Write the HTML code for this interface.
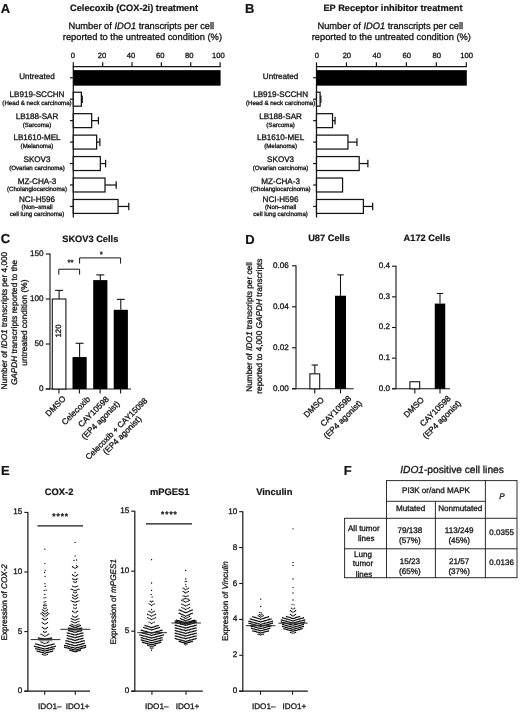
<!DOCTYPE html>
<html lang="en">
<head>
<meta charset="utf-8">
<title>IDO1 expression figure</title>
<style>
html,body{margin:0;padding:0;background:#fff;}
body{width:520px;height:712px;overflow:hidden;}
svg{display:block;text-rendering:geometricPrecision;font-family:"Liberation Sans",sans-serif;}
</style>
</head>
<body>
<svg width="520" height="712" viewBox="0 0 520 712">
<rect x="0" y="0" width="520" height="712" fill="#ffffff"/>
<text x="0.80" y="13.20" font-size="13" text-anchor="start" font-weight="bold" font-style="normal" fill="#141414" stroke="#141414" stroke-width="0.2" >A</text>
<text x="134.00" y="10.70" font-size="9.25" text-anchor="middle" font-weight="bold" font-style="normal" fill="#141414" stroke="#141414" stroke-width="0.2" >Celecoxib (COX-2i) treatment</text>
<text x="141.30" y="28.60" font-size="9.3" text-anchor="middle" font-weight="normal" font-style="normal" fill="#141414" stroke="#141414" stroke-width="0.3" >Number of <tspan font-style="italic">IDO1</tspan> transcripts per cell</text>
<text x="142.40" y="39.90" font-size="9.3" text-anchor="middle" font-weight="normal" font-style="normal" fill="#141414" stroke="#141414" stroke-width="0.3" >reported to the untreated condition (%)</text>
<line x1="72.70" y1="66.60" x2="220.70" y2="66.60" stroke="#141414" stroke-width="1.2" />
<line x1="73.30" y1="66.60" x2="73.30" y2="62.30" stroke="#141414" stroke-width="1.2" />
<text x="72.90" y="58.30" font-size="7.6" text-anchor="middle" font-weight="normal" font-style="normal" fill="#141414" stroke="#141414" stroke-width="0.3" >0</text>
<line x1="102.66" y1="66.60" x2="102.66" y2="62.30" stroke="#141414" stroke-width="1.2" />
<text x="101.98" y="58.30" font-size="7.6" text-anchor="middle" font-weight="normal" font-style="normal" fill="#141414" stroke="#141414" stroke-width="0.3" >20</text>
<line x1="132.02" y1="66.60" x2="132.02" y2="62.30" stroke="#141414" stroke-width="1.2" />
<text x="131.06" y="58.30" font-size="7.6" text-anchor="middle" font-weight="normal" font-style="normal" fill="#141414" stroke="#141414" stroke-width="0.3" >40</text>
<line x1="161.38" y1="66.60" x2="161.38" y2="62.30" stroke="#141414" stroke-width="1.2" />
<text x="160.14" y="58.30" font-size="7.6" text-anchor="middle" font-weight="normal" font-style="normal" fill="#141414" stroke="#141414" stroke-width="0.3" >60</text>
<line x1="190.74" y1="66.60" x2="190.74" y2="62.30" stroke="#141414" stroke-width="1.2" />
<text x="189.22" y="58.30" font-size="7.6" text-anchor="middle" font-weight="normal" font-style="normal" fill="#141414" stroke="#141414" stroke-width="0.3" >80</text>
<line x1="220.10" y1="66.60" x2="220.10" y2="62.30" stroke="#141414" stroke-width="1.2" />
<text x="218.30" y="58.30" font-size="7.6" text-anchor="middle" font-weight="normal" font-style="normal" fill="#141414" stroke="#141414" stroke-width="0.3" >100</text>
<line x1="73.30" y1="66.60" x2="73.30" y2="217.50" stroke="#141414" stroke-width="1.25" />
<line x1="69.90" y1="77.75" x2="73.30" y2="77.75" stroke="#141414" stroke-width="1.2" />
<rect x="73.30" y="70.15" width="147.30" height="15.50" fill="#000"/>
<text x="37.00" y="79.45" font-size="8.1" text-anchor="middle" font-weight="normal" font-style="normal" fill="#141414" stroke="#141414" stroke-width="0.3" >Untreated</text>
<line x1="69.90" y1="99.20" x2="73.30" y2="99.20" stroke="#141414" stroke-width="1.2" />
<line x1="81.37" y1="99.20" x2="82.25" y2="99.20" stroke="#141414" stroke-width="1.25" />
<line x1="82.25" y1="95.40" x2="82.25" y2="103.00" stroke="#141414" stroke-width="1.25" />
<rect x="73.30" y="92.23" width="8.07" height="13.95" fill="#fff" stroke="#141414" stroke-width="1.25"/>
<text x="37.00" y="97.30" font-size="8.1" text-anchor="middle" font-weight="normal" font-style="normal" fill="#141414" stroke="#141414" stroke-width="0.3" >LB919-SCCHN</text>
<text x="37.00" y="105.10" font-size="6.15" text-anchor="middle" font-weight="normal" font-style="normal" fill="#141414" stroke="#141414" stroke-width="0.3" >(Head &amp; neck carcinoma)</text>
<line x1="69.90" y1="120.65" x2="73.30" y2="120.65" stroke="#141414" stroke-width="1.2" />
<line x1="91.65" y1="120.65" x2="98.40" y2="120.65" stroke="#141414" stroke-width="1.25" />
<line x1="98.40" y1="116.85" x2="98.40" y2="124.45" stroke="#141414" stroke-width="1.25" />
<rect x="73.30" y="113.68" width="18.35" height="13.95" fill="#fff" stroke="#141414" stroke-width="1.25"/>
<text x="37.00" y="118.75" font-size="8.1" text-anchor="middle" font-weight="normal" font-style="normal" fill="#141414" stroke="#141414" stroke-width="0.3" >LB188-SAR</text>
<text x="37.00" y="126.55" font-size="6.15" text-anchor="middle" font-weight="normal" font-style="normal" fill="#141414" stroke="#141414" stroke-width="0.3" >(Sarcoma)</text>
<line x1="69.90" y1="142.10" x2="73.30" y2="142.10" stroke="#141414" stroke-width="1.2" />
<line x1="96.64" y1="142.10" x2="99.87" y2="142.10" stroke="#141414" stroke-width="1.25" />
<line x1="99.87" y1="138.30" x2="99.87" y2="145.90" stroke="#141414" stroke-width="1.25" />
<rect x="73.30" y="135.12" width="23.34" height="13.95" fill="#fff" stroke="#141414" stroke-width="1.25"/>
<text x="37.00" y="140.30" font-size="8.1" text-anchor="middle" font-weight="normal" font-style="normal" fill="#141414" stroke="#141414" stroke-width="0.3" >LB1610-MEL</text>
<text x="37.00" y="148.00" font-size="6.15" text-anchor="middle" font-weight="normal" font-style="normal" fill="#141414" stroke="#141414" stroke-width="0.3" >(Melanoma)</text>
<line x1="69.90" y1="163.55" x2="73.30" y2="163.55" stroke="#141414" stroke-width="1.2" />
<line x1="100.31" y1="163.55" x2="105.60" y2="163.55" stroke="#141414" stroke-width="1.25" />
<line x1="105.60" y1="159.75" x2="105.60" y2="167.35" stroke="#141414" stroke-width="1.25" />
<rect x="73.30" y="156.57" width="27.01" height="13.95" fill="#fff" stroke="#141414" stroke-width="1.25"/>
<text x="37.00" y="162.15" font-size="8.1" text-anchor="middle" font-weight="normal" font-style="normal" fill="#141414" stroke="#141414" stroke-width="0.3" >SKOV3</text>
<text x="37.00" y="169.65" font-size="6.15" text-anchor="middle" font-weight="normal" font-style="normal" fill="#141414" stroke="#141414" stroke-width="0.3" >(Ovarian carcinoma)</text>
<line x1="69.90" y1="185.00" x2="73.30" y2="185.00" stroke="#141414" stroke-width="1.2" />
<line x1="105.01" y1="185.00" x2="116.17" y2="185.00" stroke="#141414" stroke-width="1.25" />
<line x1="116.17" y1="181.20" x2="116.17" y2="188.80" stroke="#141414" stroke-width="1.25" />
<rect x="73.30" y="178.03" width="31.71" height="13.95" fill="#fff" stroke="#141414" stroke-width="1.25"/>
<text x="37.00" y="183.80" font-size="8.1" text-anchor="middle" font-weight="normal" font-style="normal" fill="#141414" stroke="#141414" stroke-width="0.3" >MZ-CHA-3</text>
<text x="37.00" y="191.10" font-size="6.15" text-anchor="middle" font-weight="normal" font-style="normal" fill="#141414" stroke="#141414" stroke-width="0.3" >(Cholangiocarcinoma)</text>
<line x1="69.90" y1="206.45" x2="73.30" y2="206.45" stroke="#141414" stroke-width="1.2" />
<line x1="118.07" y1="206.45" x2="128.79" y2="206.45" stroke="#141414" stroke-width="1.25" />
<line x1="128.79" y1="202.65" x2="128.79" y2="210.25" stroke="#141414" stroke-width="1.25" />
<rect x="73.30" y="199.47" width="44.77" height="13.95" fill="#fff" stroke="#141414" stroke-width="1.25"/>
<text x="37.00" y="201.85" font-size="8.1" text-anchor="middle" font-weight="normal" font-style="normal" fill="#141414" stroke="#141414" stroke-width="0.3" >NCI-H596</text>
<text x="37.00" y="209.45" font-size="6.15" text-anchor="middle" font-weight="normal" font-style="normal" fill="#141414" stroke="#141414" stroke-width="0.3" >(Non–small</text>
<text x="37.00" y="216.45" font-size="6.15" text-anchor="middle" font-weight="normal" font-style="normal" fill="#141414" stroke="#141414" stroke-width="0.3" >cell lung carcinoma)</text>
<text x="245.00" y="13.20" font-size="13" text-anchor="start" font-weight="bold" font-style="normal" fill="#141414" stroke="#141414" stroke-width="0.2" >B</text>
<text x="393.00" y="10.70" font-size="9.25" text-anchor="middle" font-weight="bold" font-style="normal" fill="#141414" stroke="#141414" stroke-width="0.2" >EP Receptor inhibitor treatment</text>
<text x="390.30" y="28.60" font-size="9.3" text-anchor="middle" font-weight="normal" font-style="normal" fill="#141414" stroke="#141414" stroke-width="0.3" >Number of <tspan font-style="italic">IDO1</tspan> transcripts per cell</text>
<text x="391.30" y="39.90" font-size="9.3" text-anchor="middle" font-weight="normal" font-style="normal" fill="#141414" stroke="#141414" stroke-width="0.3" >reported to the untreated condition (%)</text>
<line x1="315.90" y1="66.60" x2="466.90" y2="66.60" stroke="#141414" stroke-width="1.2" />
<line x1="316.50" y1="66.60" x2="316.50" y2="62.30" stroke="#141414" stroke-width="1.2" />
<text x="316.90" y="58.30" font-size="7.6" text-anchor="middle" font-weight="normal" font-style="normal" fill="#141414" stroke="#141414" stroke-width="0.3" >0</text>
<line x1="346.46" y1="66.60" x2="346.46" y2="62.30" stroke="#141414" stroke-width="1.2" />
<text x="346.86" y="58.30" font-size="7.6" text-anchor="middle" font-weight="normal" font-style="normal" fill="#141414" stroke="#141414" stroke-width="0.3" >20</text>
<line x1="376.42" y1="66.60" x2="376.42" y2="62.30" stroke="#141414" stroke-width="1.2" />
<text x="376.82" y="58.30" font-size="7.6" text-anchor="middle" font-weight="normal" font-style="normal" fill="#141414" stroke="#141414" stroke-width="0.3" >40</text>
<line x1="406.38" y1="66.60" x2="406.38" y2="62.30" stroke="#141414" stroke-width="1.2" />
<text x="406.78" y="58.30" font-size="7.6" text-anchor="middle" font-weight="normal" font-style="normal" fill="#141414" stroke="#141414" stroke-width="0.3" >60</text>
<line x1="436.34" y1="66.60" x2="436.34" y2="62.30" stroke="#141414" stroke-width="1.2" />
<text x="436.74" y="58.30" font-size="7.6" text-anchor="middle" font-weight="normal" font-style="normal" fill="#141414" stroke="#141414" stroke-width="0.3" >80</text>
<line x1="466.30" y1="66.60" x2="466.30" y2="62.30" stroke="#141414" stroke-width="1.2" />
<text x="466.70" y="58.30" font-size="7.6" text-anchor="middle" font-weight="normal" font-style="normal" fill="#141414" stroke="#141414" stroke-width="0.3" >100</text>
<line x1="316.50" y1="66.60" x2="316.50" y2="217.50" stroke="#141414" stroke-width="1.25" />
<line x1="313.10" y1="77.75" x2="316.50" y2="77.75" stroke="#141414" stroke-width="1.2" />
<rect x="316.50" y="70.15" width="150.30" height="15.50" fill="#000"/>
<text x="280.60" y="79.45" font-size="8.1" text-anchor="middle" font-weight="normal" font-style="normal" fill="#141414" stroke="#141414" stroke-width="0.3" >Untreated</text>
<line x1="313.10" y1="99.20" x2="316.50" y2="99.20" stroke="#141414" stroke-width="1.2" />
<line x1="320.10" y1="99.20" x2="320.84" y2="99.20" stroke="#141414" stroke-width="1.25" />
<line x1="320.84" y1="95.40" x2="320.84" y2="103.00" stroke="#141414" stroke-width="1.25" />
<rect x="316.50" y="92.23" width="3.60" height="13.95" fill="#fff" stroke="#141414" stroke-width="1.25"/>
<text x="280.60" y="97.30" font-size="8.1" text-anchor="middle" font-weight="normal" font-style="normal" fill="#141414" stroke="#141414" stroke-width="0.3" >LB919-SCCHN</text>
<text x="280.60" y="105.10" font-size="6.15" text-anchor="middle" font-weight="normal" font-style="normal" fill="#141414" stroke="#141414" stroke-width="0.3" >(Head &amp; neck carcinoma)</text>
<line x1="313.10" y1="120.65" x2="316.50" y2="120.65" stroke="#141414" stroke-width="1.2" />
<line x1="332.53" y1="120.65" x2="335.08" y2="120.65" stroke="#141414" stroke-width="1.25" />
<line x1="335.08" y1="116.85" x2="335.08" y2="124.45" stroke="#141414" stroke-width="1.25" />
<rect x="316.50" y="113.68" width="16.03" height="13.95" fill="#fff" stroke="#141414" stroke-width="1.25"/>
<text x="280.60" y="118.75" font-size="8.1" text-anchor="middle" font-weight="normal" font-style="normal" fill="#141414" stroke="#141414" stroke-width="0.3" >LB188-SAR</text>
<text x="280.60" y="126.55" font-size="6.15" text-anchor="middle" font-weight="normal" font-style="normal" fill="#141414" stroke="#141414" stroke-width="0.3" >(Sarcoma)</text>
<line x1="313.10" y1="142.10" x2="316.50" y2="142.10" stroke="#141414" stroke-width="1.2" />
<line x1="347.96" y1="142.10" x2="356.95" y2="142.10" stroke="#141414" stroke-width="1.25" />
<line x1="356.95" y1="138.30" x2="356.95" y2="145.90" stroke="#141414" stroke-width="1.25" />
<rect x="316.50" y="135.12" width="31.46" height="13.95" fill="#fff" stroke="#141414" stroke-width="1.25"/>
<text x="280.60" y="140.30" font-size="8.1" text-anchor="middle" font-weight="normal" font-style="normal" fill="#141414" stroke="#141414" stroke-width="0.3" >LB1610-MEL</text>
<text x="280.60" y="148.00" font-size="6.15" text-anchor="middle" font-weight="normal" font-style="normal" fill="#141414" stroke="#141414" stroke-width="0.3" >(Melanoma)</text>
<line x1="313.10" y1="163.55" x2="316.50" y2="163.55" stroke="#141414" stroke-width="1.2" />
<line x1="359.19" y1="163.55" x2="367.88" y2="163.55" stroke="#141414" stroke-width="1.25" />
<line x1="367.88" y1="159.75" x2="367.88" y2="167.35" stroke="#141414" stroke-width="1.25" />
<rect x="316.50" y="156.57" width="42.69" height="13.95" fill="#fff" stroke="#141414" stroke-width="1.25"/>
<text x="280.60" y="162.15" font-size="8.1" text-anchor="middle" font-weight="normal" font-style="normal" fill="#141414" stroke="#141414" stroke-width="0.3" >SKOV3</text>
<text x="280.60" y="169.65" font-size="6.15" text-anchor="middle" font-weight="normal" font-style="normal" fill="#141414" stroke="#141414" stroke-width="0.3" >(Ovarian carcinoma)</text>
<line x1="313.10" y1="185.00" x2="316.50" y2="185.00" stroke="#141414" stroke-width="1.2" />
<rect x="316.50" y="178.03" width="26.07" height="13.95" fill="#fff" stroke="#141414" stroke-width="1.25"/>
<text x="280.60" y="183.80" font-size="8.1" text-anchor="middle" font-weight="normal" font-style="normal" fill="#141414" stroke="#141414" stroke-width="0.3" >MZ-CHA-3</text>
<text x="280.60" y="191.10" font-size="6.15" text-anchor="middle" font-weight="normal" font-style="normal" fill="#141414" stroke="#141414" stroke-width="0.3" >(Cholangiocarcinoma)</text>
<line x1="313.10" y1="206.45" x2="316.50" y2="206.45" stroke="#141414" stroke-width="1.2" />
<line x1="363.39" y1="206.45" x2="372.68" y2="206.45" stroke="#141414" stroke-width="1.25" />
<line x1="372.68" y1="202.65" x2="372.68" y2="210.25" stroke="#141414" stroke-width="1.25" />
<rect x="316.50" y="199.47" width="46.89" height="13.95" fill="#fff" stroke="#141414" stroke-width="1.25"/>
<text x="280.60" y="201.85" font-size="8.1" text-anchor="middle" font-weight="normal" font-style="normal" fill="#141414" stroke="#141414" stroke-width="0.3" >NCI-H596</text>
<text x="280.60" y="209.45" font-size="6.15" text-anchor="middle" font-weight="normal" font-style="normal" fill="#141414" stroke="#141414" stroke-width="0.3" >(Non–small</text>
<text x="280.60" y="216.45" font-size="6.15" text-anchor="middle" font-weight="normal" font-style="normal" fill="#141414" stroke="#141414" stroke-width="0.3" >cell lung carcinoma)</text>
<text x="0.80" y="243.20" font-size="13" text-anchor="start" font-weight="bold" font-style="normal" fill="#141414" stroke="#141414" stroke-width="0.2" >C</text>
<text x="90.30" y="241.70" font-size="9.25" text-anchor="middle" font-weight="bold" font-style="normal" fill="#141414" stroke="#141414" stroke-width="0.2" >SKOV3 Cells</text>
<line x1="50.00" y1="253.50" x2="50.00" y2="389.00" stroke="#141414" stroke-width="1.1" />
<line x1="45.80" y1="389.00" x2="131.00" y2="389.00" stroke="#141414" stroke-width="1.1" />
<line x1="45.80" y1="389.00" x2="50.00" y2="389.00" stroke="#141414" stroke-width="1.1" />
<text x="43.40" y="391.30" font-size="8.1" text-anchor="end" font-weight="normal" font-style="normal" fill="#141414" stroke="#141414" stroke-width="0.3" >0</text>
<line x1="45.80" y1="344.00" x2="50.00" y2="344.00" stroke="#141414" stroke-width="1.1" />
<text x="43.40" y="346.30" font-size="8.1" text-anchor="end" font-weight="normal" font-style="normal" fill="#141414" stroke="#141414" stroke-width="0.3" >50</text>
<line x1="45.80" y1="299.00" x2="50.00" y2="299.00" stroke="#141414" stroke-width="1.1" />
<text x="43.40" y="301.30" font-size="8.1" text-anchor="end" font-weight="normal" font-style="normal" fill="#141414" stroke="#141414" stroke-width="0.3" >100</text>
<line x1="45.80" y1="254.00" x2="50.00" y2="254.00" stroke="#141414" stroke-width="1.1" />
<text x="43.40" y="256.30" font-size="8.1" text-anchor="end" font-weight="normal" font-style="normal" fill="#141414" stroke="#141414" stroke-width="0.3" >150</text>
<line x1="59.10" y1="299.00" x2="59.10" y2="290.36" stroke="#141414" stroke-width="1.1" />
<line x1="55.10" y1="290.36" x2="63.10" y2="290.36" stroke="#141414" stroke-width="1.1" />
<rect x="52.30" y="299.00" width="13.60" height="90.00" fill="#fff" stroke="#141414" stroke-width="1.1"/>
<line x1="58.90" y1="389.00" x2="58.90" y2="393.50" stroke="#141414" stroke-width="1.1" />
<line x1="79.60" y1="357.05" x2="79.60" y2="343.28" stroke="#141414" stroke-width="1.1" />
<line x1="75.60" y1="343.28" x2="83.60" y2="343.28" stroke="#141414" stroke-width="1.1" />
<rect x="72.50" y="357.05" width="14.2" height="31.95" fill="#000"/>
<line x1="79.40" y1="389.00" x2="79.40" y2="393.50" stroke="#141414" stroke-width="1.1" />
<line x1="100.30" y1="280.10" x2="100.30" y2="274.88" stroke="#141414" stroke-width="1.1" />
<line x1="96.30" y1="274.88" x2="104.30" y2="274.88" stroke="#141414" stroke-width="1.1" />
<rect x="93.20" y="280.10" width="14.2" height="108.90" fill="#000"/>
<line x1="100.10" y1="389.00" x2="100.10" y2="393.50" stroke="#141414" stroke-width="1.1" />
<line x1="120.80" y1="309.80" x2="120.80" y2="299.36" stroke="#141414" stroke-width="1.1" />
<line x1="116.80" y1="299.36" x2="124.80" y2="299.36" stroke="#141414" stroke-width="1.1" />
<rect x="113.70" y="309.80" width="14.2" height="79.20" fill="#000"/>
<line x1="120.60" y1="389.00" x2="120.60" y2="393.50" stroke="#141414" stroke-width="1.1" />
<text x="61.20" y="331.00" font-size="7.8" text-anchor="middle" font-weight="normal" font-style="normal" fill="#141414" stroke="#141414" stroke-width="0.3" transform="rotate(-90 61.20 331.00)" >120</text>
<polyline points="58.8,274.6 58.8,269.2 79.6,269.2 79.6,274.6" fill="none" stroke="#141414" stroke-width="1"/>
<polyline points="79.6,263.6 79.6,257.9 120.6,257.9 120.6,263.6" fill="none" stroke="#141414" stroke-width="1"/>
<text x="70.60" y="265.40" font-size="7.8" text-anchor="middle" font-weight="bold" font-style="normal" fill="#141414" stroke="#141414" stroke-width="0.2" >**</text>
<text x="101.30" y="256.60" font-size="7.8" text-anchor="middle" font-weight="bold" font-style="normal" fill="#141414" stroke="#141414" stroke-width="0.2" >*</text>
<text x="7.40" y="320.60" font-size="8.25" text-anchor="middle" font-weight="normal" font-style="normal" fill="#141414" stroke="#141414" stroke-width="0.3" transform="rotate(-90 7.40 320.60)" >Number of <tspan font-style="italic">IDO1</tspan> transcripts per 4,000</text>
<text x="17.40" y="322.50" font-size="8.23" text-anchor="middle" font-weight="normal" font-style="normal" fill="#141414" stroke="#141414" stroke-width="0.3" transform="rotate(-90 17.40 322.50)" ><tspan font-style="italic">GAPDH</tspan> transcripts reported to the</text>
<text x="27.20" y="322.60" font-size="8.33" text-anchor="middle" font-weight="normal" font-style="normal" fill="#141414" stroke="#141414" stroke-width="0.3" transform="rotate(-90 27.20 322.60)" >untreated condition (%)</text>
<text x="66.30" y="399.30" font-size="8.3" text-anchor="end" font-weight="normal" font-style="normal" fill="#141414" stroke="#141414" stroke-width="0.3" transform="rotate(-45 66.30 399.30)" >DMSO</text>
<text x="90.70" y="399.70" font-size="8.3" text-anchor="end" font-weight="normal" font-style="normal" fill="#141414" stroke="#141414" stroke-width="0.3" transform="rotate(-45 90.70 399.70)" >Celecoxib</text>
<text x="109.50" y="399.70" font-size="8.3" text-anchor="end" font-weight="normal" font-style="normal" fill="#141414" stroke="#141414" stroke-width="0.3" transform="rotate(-45 109.50 399.70)" >CAY10598</text>
<text x="120.30" y="404.40" font-size="8.3" text-anchor="end" font-weight="normal" font-style="normal" fill="#141414" stroke="#141414" stroke-width="0.3" transform="rotate(-45 120.30 404.40)" >(EP4 agonist)</text>
<text x="148.00" y="401.20" font-size="8.15" text-anchor="end" font-weight="normal" font-style="normal" fill="#141414" stroke="#141414" stroke-width="0.3" transform="rotate(-45 148.00 401.20)" >Celecoxib + CAY15098</text>
<text x="141.90" y="419.40" font-size="8.3" text-anchor="end" font-weight="normal" font-style="normal" fill="#141414" stroke="#141414" stroke-width="0.3" transform="rotate(-45 141.90 419.40)" >(EP4 agonist)</text>
<text x="245.30" y="244.00" font-size="13" text-anchor="start" font-weight="bold" font-style="normal" fill="#141414" stroke="#141414" stroke-width="0.2" >D</text>
<text x="329.00" y="241.30" font-size="9.25" text-anchor="middle" font-weight="bold" font-style="normal" fill="#141414" stroke="#141414" stroke-width="0.2" >U87 Cells</text>
<line x1="296.00" y1="265.30" x2="296.00" y2="388.80" stroke="#141414" stroke-width="1.1" />
<line x1="292.00" y1="388.80" x2="353.70" y2="388.80" stroke="#141414" stroke-width="1.1" />
<line x1="292.00" y1="388.80" x2="296.00" y2="388.80" stroke="#141414" stroke-width="1.1" />
<text x="288.80" y="390.50" font-size="8.1" text-anchor="end" font-weight="normal" font-style="normal" fill="#141414" stroke="#141414" stroke-width="0.3" >0.00</text>
<line x1="292.00" y1="347.80" x2="296.00" y2="347.80" stroke="#141414" stroke-width="1.1" />
<text x="288.80" y="349.50" font-size="8.1" text-anchor="end" font-weight="normal" font-style="normal" fill="#141414" stroke="#141414" stroke-width="0.3" >0.02</text>
<line x1="292.00" y1="306.80" x2="296.00" y2="306.80" stroke="#141414" stroke-width="1.1" />
<text x="288.80" y="308.50" font-size="8.1" text-anchor="end" font-weight="normal" font-style="normal" fill="#141414" stroke="#141414" stroke-width="0.3" >0.04</text>
<line x1="292.00" y1="265.80" x2="296.00" y2="265.80" stroke="#141414" stroke-width="1.1" />
<text x="288.80" y="267.50" font-size="8.1" text-anchor="end" font-weight="normal" font-style="normal" fill="#141414" stroke="#141414" stroke-width="0.3" >0.06</text>
<line x1="314.80" y1="373.84" x2="314.80" y2="365.02" stroke="#141414" stroke-width="1.1" />
<line x1="311.60" y1="365.02" x2="318.00" y2="365.02" stroke="#141414" stroke-width="1.1" />
<rect x="309.90" y="373.84" width="9.80" height="14.96" fill="#fff" stroke="#141414" stroke-width="1.1"/>
<line x1="314.80" y1="388.80" x2="314.80" y2="393.40" stroke="#141414" stroke-width="1.1" />
<line x1="340.50" y1="295.73" x2="340.50" y2="274.82" stroke="#141414" stroke-width="1.1" />
<line x1="337.30" y1="274.82" x2="343.70" y2="274.82" stroke="#141414" stroke-width="1.1" />
<rect x="335.00" y="295.73" width="11" height="93.07" fill="#000"/>
<line x1="340.50" y1="388.80" x2="340.50" y2="393.40" stroke="#141414" stroke-width="1.1" />
<text x="427.00" y="241.30" font-size="9.25" text-anchor="middle" font-weight="bold" font-style="normal" fill="#141414" stroke="#141414" stroke-width="0.2" >A172 Cells</text>
<line x1="396.00" y1="265.70" x2="396.00" y2="388.80" stroke="#141414" stroke-width="1.1" />
<line x1="392.00" y1="388.80" x2="450.00" y2="388.80" stroke="#141414" stroke-width="1.1" />
<line x1="392.00" y1="388.80" x2="396.00" y2="388.80" stroke="#141414" stroke-width="1.1" />
<text x="390.00" y="390.70" font-size="8.1" text-anchor="end" font-weight="normal" font-style="normal" fill="#141414" stroke="#141414" stroke-width="0.3" >0.0</text>
<line x1="392.00" y1="358.15" x2="396.00" y2="358.15" stroke="#141414" stroke-width="1.1" />
<text x="390.00" y="360.05" font-size="8.1" text-anchor="end" font-weight="normal" font-style="normal" fill="#141414" stroke="#141414" stroke-width="0.3" >0.1</text>
<line x1="392.00" y1="327.50" x2="396.00" y2="327.50" stroke="#141414" stroke-width="1.1" />
<text x="390.00" y="329.40" font-size="8.1" text-anchor="end" font-weight="normal" font-style="normal" fill="#141414" stroke="#141414" stroke-width="0.3" >0.2</text>
<line x1="392.00" y1="296.85" x2="396.00" y2="296.85" stroke="#141414" stroke-width="1.1" />
<text x="390.00" y="298.75" font-size="8.1" text-anchor="end" font-weight="normal" font-style="normal" fill="#141414" stroke="#141414" stroke-width="0.3" >0.3</text>
<line x1="392.00" y1="266.20" x2="396.00" y2="266.20" stroke="#141414" stroke-width="1.1" />
<text x="390.00" y="268.10" font-size="8.1" text-anchor="end" font-weight="normal" font-style="normal" fill="#141414" stroke="#141414" stroke-width="0.3" >0.4</text>
<rect x="409.90" y="381.75" width="9.80" height="7.05" fill="#fff" stroke="#141414" stroke-width="1.1"/>
<line x1="414.80" y1="388.80" x2="414.80" y2="393.40" stroke="#141414" stroke-width="1.1" />
<line x1="440.00" y1="303.59" x2="440.00" y2="293.48" stroke="#141414" stroke-width="1.1" />
<line x1="436.80" y1="293.48" x2="443.20" y2="293.48" stroke="#141414" stroke-width="1.1" />
<rect x="434.75" y="303.59" width="10.5" height="85.21" fill="#000"/>
<line x1="440.00" y1="388.80" x2="440.00" y2="393.40" stroke="#141414" stroke-width="1.1" />
<text x="252.20" y="326.90" font-size="8.27" text-anchor="middle" font-weight="normal" font-style="normal" fill="#141414" stroke="#141414" stroke-width="0.3" transform="rotate(-90 252.20 326.90)" >Number of <tspan font-style="italic">IDO1</tspan> transcripts per cell</text>
<text x="262.50" y="326.10" font-size="8.27" text-anchor="middle" font-weight="normal" font-style="normal" fill="#141414" stroke="#141414" stroke-width="0.3" transform="rotate(-90 262.50 326.10)" >reported to 4,000 <tspan font-style="italic">GAPDH</tspan> transcripts</text>
<text x="324.70" y="400.30" font-size="8.3" text-anchor="end" font-weight="normal" font-style="normal" fill="#141414" stroke="#141414" stroke-width="0.3" transform="rotate(-45 324.70 400.30)" >DMSO</text>
<text x="351.80" y="399.00" font-size="8.3" text-anchor="end" font-weight="normal" font-style="normal" fill="#141414" stroke="#141414" stroke-width="0.3" transform="rotate(-45 351.80 399.00)" >CAY10598</text>
<text x="362.50" y="403.70" font-size="8.3" text-anchor="end" font-weight="normal" font-style="normal" fill="#141414" stroke="#141414" stroke-width="0.3" transform="rotate(-45 362.50 403.70)" >(EP4 agonist)</text>
<text x="424.70" y="400.30" font-size="8.3" text-anchor="end" font-weight="normal" font-style="normal" fill="#141414" stroke="#141414" stroke-width="0.3" transform="rotate(-45 424.70 400.30)" >DMSO</text>
<text x="451.30" y="399.00" font-size="8.3" text-anchor="end" font-weight="normal" font-style="normal" fill="#141414" stroke="#141414" stroke-width="0.3" transform="rotate(-45 451.30 399.00)" >CAY10598</text>
<text x="461.50" y="403.70" font-size="8.3" text-anchor="end" font-weight="normal" font-style="normal" fill="#141414" stroke="#141414" stroke-width="0.3" transform="rotate(-45 461.50 403.70)" >(EP4 agonist)</text>
<text x="0.90" y="475.20" font-size="13" text-anchor="start" font-weight="bold" font-style="normal" fill="#141414" stroke="#141414" stroke-width="0.2" >E</text>
<text x="59.10" y="494.90" font-size="9.35" text-anchor="middle" font-weight="bold" font-style="normal" fill="#141414" stroke="#141414" stroke-width="0.2" >COX-2</text>
<line x1="27.90" y1="511.90" x2="27.90" y2="691.20" stroke="#141414" stroke-width="1.2" />
<line x1="24.30" y1="691.20" x2="90.00" y2="691.20" stroke="#141414" stroke-width="1.2" />
<line x1="24.30" y1="691.20" x2="27.90" y2="691.20" stroke="#141414" stroke-width="1.1" />
<text x="22.30" y="693.20" font-size="8.15" text-anchor="end" font-weight="normal" font-style="normal" fill="#141414" stroke="#141414" stroke-width="0.3" >0</text>
<line x1="24.30" y1="631.60" x2="27.90" y2="631.60" stroke="#141414" stroke-width="1.1" />
<text x="22.30" y="633.60" font-size="8.15" text-anchor="end" font-weight="normal" font-style="normal" fill="#141414" stroke="#141414" stroke-width="0.3" >5</text>
<line x1="24.30" y1="572.00" x2="27.90" y2="572.00" stroke="#141414" stroke-width="1.1" />
<text x="22.30" y="574.00" font-size="8.15" text-anchor="end" font-weight="normal" font-style="normal" fill="#141414" stroke="#141414" stroke-width="0.3" >10</text>
<line x1="24.30" y1="512.40" x2="27.90" y2="512.40" stroke="#141414" stroke-width="1.1" />
<text x="22.30" y="514.40" font-size="8.15" text-anchor="end" font-weight="normal" font-style="normal" fill="#141414" stroke="#141414" stroke-width="0.3" >15</text>
<line x1="44.70" y1="691.20" x2="44.70" y2="694.80" stroke="#141414" stroke-width="1.1" />
<line x1="75.30" y1="691.20" x2="75.30" y2="694.80" stroke="#141414" stroke-width="1.1" />
<text x="49.80" y="709.40" font-size="8.15" text-anchor="middle" font-weight="normal" font-style="normal" fill="#141414" stroke="#141414" stroke-width="0.3" >IDO1–</text>
<text x="77.60" y="709.40" font-size="8.15" text-anchor="middle" font-weight="normal" font-style="normal" fill="#141414" stroke="#141414" stroke-width="0.3" >IDO1+</text>
<text x="6.70" y="602.30" font-size="8.15" text-anchor="middle" font-weight="normal" font-style="normal" fill="#141414" stroke="#141414" stroke-width="0.3" transform="rotate(-90 6.70 602.30)" >Expression of <tspan font-style="italic">COX-2</tspan></text>
<line x1="37.50" y1="525.80" x2="83.00" y2="525.80" stroke="#141414" stroke-width="1.35" />
<text x="60.65" y="518.80" font-size="8.2" text-anchor="middle" font-weight="bold" font-style="normal" fill="#141414" stroke="#141414" stroke-width="0.2" letter-spacing="1">****</text>
<text x="169.70" y="494.90" font-size="9.35" text-anchor="middle" font-weight="bold" font-style="normal" fill="#141414" stroke="#141414" stroke-width="0.2" >mPGES1</text>
<line x1="134.80" y1="510.70" x2="134.80" y2="691.20" stroke="#141414" stroke-width="1.2" />
<line x1="131.20" y1="691.20" x2="202.80" y2="691.20" stroke="#141414" stroke-width="1.2" />
<line x1="131.20" y1="691.20" x2="134.80" y2="691.20" stroke="#141414" stroke-width="1.1" />
<text x="129.20" y="693.20" font-size="8.15" text-anchor="end" font-weight="normal" font-style="normal" fill="#141414" stroke="#141414" stroke-width="0.3" >0</text>
<line x1="131.20" y1="631.20" x2="134.80" y2="631.20" stroke="#141414" stroke-width="1.1" />
<text x="129.20" y="633.20" font-size="8.15" text-anchor="end" font-weight="normal" font-style="normal" fill="#141414" stroke="#141414" stroke-width="0.3" >5</text>
<line x1="131.20" y1="571.20" x2="134.80" y2="571.20" stroke="#141414" stroke-width="1.1" />
<text x="129.20" y="573.20" font-size="8.15" text-anchor="end" font-weight="normal" font-style="normal" fill="#141414" stroke="#141414" stroke-width="0.3" >10</text>
<line x1="131.20" y1="511.20" x2="134.80" y2="511.20" stroke="#141414" stroke-width="1.1" />
<text x="129.20" y="513.20" font-size="8.15" text-anchor="end" font-weight="normal" font-style="normal" fill="#141414" stroke="#141414" stroke-width="0.3" >15</text>
<line x1="151.90" y1="691.20" x2="151.90" y2="694.80" stroke="#141414" stroke-width="1.1" />
<line x1="186.00" y1="691.20" x2="186.00" y2="694.80" stroke="#141414" stroke-width="1.1" />
<text x="156.70" y="709.40" font-size="8.15" text-anchor="middle" font-weight="normal" font-style="normal" fill="#141414" stroke="#141414" stroke-width="0.3" >IDO1–</text>
<text x="187.50" y="709.40" font-size="8.15" text-anchor="middle" font-weight="normal" font-style="normal" fill="#141414" stroke="#141414" stroke-width="0.3" >IDO1+</text>
<text x="116.50" y="601.70" font-size="8.15" text-anchor="middle" font-weight="normal" font-style="normal" fill="#141414" stroke="#141414" stroke-width="0.3" transform="rotate(-90 116.50 601.70)" >Expression of <tspan font-style="italic">mPGES1</tspan></text>
<line x1="146.00" y1="523.80" x2="192.00" y2="523.80" stroke="#141414" stroke-width="1.35" />
<text x="169.40" y="516.80" font-size="8.2" text-anchor="middle" font-weight="bold" font-style="normal" fill="#141414" stroke="#141414" stroke-width="0.2" letter-spacing="1">****</text>
<text x="274.30" y="494.90" font-size="9.35" text-anchor="middle" font-weight="bold" font-style="normal" fill="#141414" stroke="#141414" stroke-width="0.2" >Vinculin</text>
<line x1="242.80" y1="511.20" x2="242.80" y2="691.20" stroke="#141414" stroke-width="1.2" />
<line x1="239.20" y1="691.20" x2="307.80" y2="691.20" stroke="#141414" stroke-width="1.2" />
<line x1="239.20" y1="691.20" x2="242.80" y2="691.20" stroke="#141414" stroke-width="1.1" />
<text x="237.20" y="693.20" font-size="8.15" text-anchor="end" font-weight="normal" font-style="normal" fill="#141414" stroke="#141414" stroke-width="0.3" >0</text>
<line x1="239.20" y1="655.30" x2="242.80" y2="655.30" stroke="#141414" stroke-width="1.1" />
<text x="237.20" y="657.30" font-size="8.15" text-anchor="end" font-weight="normal" font-style="normal" fill="#141414" stroke="#141414" stroke-width="0.3" >2</text>
<line x1="239.20" y1="619.40" x2="242.80" y2="619.40" stroke="#141414" stroke-width="1.1" />
<text x="237.20" y="621.40" font-size="8.15" text-anchor="end" font-weight="normal" font-style="normal" fill="#141414" stroke="#141414" stroke-width="0.3" >4</text>
<line x1="239.20" y1="583.50" x2="242.80" y2="583.50" stroke="#141414" stroke-width="1.1" />
<text x="237.20" y="585.50" font-size="8.15" text-anchor="end" font-weight="normal" font-style="normal" fill="#141414" stroke="#141414" stroke-width="0.3" >6</text>
<line x1="239.20" y1="547.60" x2="242.80" y2="547.60" stroke="#141414" stroke-width="1.1" />
<text x="237.20" y="549.60" font-size="8.15" text-anchor="end" font-weight="normal" font-style="normal" fill="#141414" stroke="#141414" stroke-width="0.3" >8</text>
<line x1="239.20" y1="511.70" x2="242.80" y2="511.70" stroke="#141414" stroke-width="1.1" />
<text x="237.20" y="513.70" font-size="8.15" text-anchor="end" font-weight="normal" font-style="normal" fill="#141414" stroke="#141414" stroke-width="0.3" >10</text>
<line x1="260.50" y1="691.20" x2="260.50" y2="694.80" stroke="#141414" stroke-width="1.1" />
<line x1="292.60" y1="691.20" x2="292.60" y2="694.80" stroke="#141414" stroke-width="1.1" />
<text x="263.70" y="709.40" font-size="8.15" text-anchor="middle" font-weight="normal" font-style="normal" fill="#141414" stroke="#141414" stroke-width="0.3" >IDO1–</text>
<text x="294.40" y="709.40" font-size="8.15" text-anchor="middle" font-weight="normal" font-style="normal" fill="#141414" stroke="#141414" stroke-width="0.3" >IDO1+</text>
<text x="227.50" y="601.00" font-size="8.15" text-anchor="middle" font-weight="normal" font-style="normal" fill="#141414" stroke="#141414" stroke-width="0.3" transform="rotate(-90 227.50 601.00)" >Expression of <tspan font-style="italic">Vinculin</tspan></text>
<path d="M44.90 549.20h0M44.90 563.60h0M45.20 570.30h0M44.60 572.50h0M45.10 576.30h0M44.90 583.70h0M45.20 586.40h0M44.20 590.50h0M46.20 590.20h0M44.90 594.50h0M44.10 597.90h0M45.90 597.60h0M44.10 602.00h0M45.80 601.60h0M44.90 604.00h0M43.60 605.22h0M44.90 606.00h0M46.20 605.22h0M43.60 607.92h0M44.90 608.70h0M46.20 607.92h0M42.30 609.84h0M43.60 610.62h0M44.90 611.40h0M46.20 610.62h0M47.50 609.84h0M42.30 612.44h0M43.60 613.22h0M44.90 614.00h0M46.20 613.22h0M47.50 612.44h0M41.00 613.68h0M42.30 614.72h0M43.60 615.76h0M44.90 616.80h0M46.20 615.76h0M47.50 614.72h0M48.80 613.68h0M42.30 618.44h0M43.60 619.22h0M44.90 620.00h0M46.20 619.22h0M47.50 618.44h0M42.30 622.64h0M43.60 623.42h0M44.90 624.20h0M46.20 623.42h0M47.50 622.64h0M42.30 627.44h0M43.60 628.22h0M44.90 629.00h0M46.20 628.22h0M47.50 627.44h0M43.60 631.72h0M44.90 632.50h0M46.20 631.72h0M41.00 634.15h0M42.30 634.87h0M43.60 635.58h0M44.90 636.30h0M46.20 635.58h0M47.50 634.87h0M48.80 634.15h0M41.00 641.95h0M42.30 642.53h0M43.60 643.12h0M44.90 643.70h0M46.20 643.12h0M47.50 642.53h0M48.80 641.95h0M42.30 654.42h0M43.60 654.81h0M44.90 655.20h0M46.20 654.81h0M47.50 654.42h0" stroke="#000" stroke-width="1.32" stroke-linecap="round" fill="none"/>
<path d="M38.40 638.00h0M39.70 638.26h0M41.00 638.52h0M42.30 638.78h0M43.60 639.04h0M44.90 639.30h0M46.20 639.04h0M47.50 638.78h0M48.80 638.52h0M50.10 638.26h0M51.40 638.00h0M35.80 643.94h0M37.10 644.29h0M38.40 644.64h0M39.70 645.00h0M41.00 645.35h0M42.30 645.70h0M43.60 646.05h0M44.90 646.40h0M46.20 646.05h0M47.50 645.70h0M48.80 645.35h0M50.10 645.00h0M51.40 644.64h0M52.70 644.29h0M54.00 643.94h0M34.50 646.29h0M35.80 646.64h0M37.10 646.99h0M38.40 647.35h0M39.70 647.70h0M41.00 648.05h0M42.30 648.40h0M43.60 648.75h0M44.90 649.10h0M46.20 648.75h0M47.50 648.40h0M48.80 648.05h0M50.10 647.70h0M51.40 647.35h0M52.70 646.99h0M54.00 646.64h0M55.30 646.29h0M35.80 648.64h0M37.10 648.99h0M38.40 649.35h0M39.70 649.70h0M41.00 650.05h0M42.30 650.40h0M43.60 650.75h0M44.90 651.10h0M46.20 650.75h0M47.50 650.40h0M48.80 650.05h0M50.10 649.70h0M51.40 649.35h0M52.70 648.99h0M54.00 648.64h0M37.10 651.09h0M38.40 651.45h0M39.70 651.80h0M41.00 652.15h0M42.30 652.50h0M43.60 652.85h0M44.90 653.20h0M46.20 652.85h0M47.50 652.50h0M48.80 652.15h0M50.10 651.80h0M51.40 651.45h0M52.70 651.09h0" stroke="#000" stroke-width="1.48" stroke-linecap="round" fill="none"/>
<line x1="30.70" y1="639.60" x2="60.30" y2="639.60" stroke="#2a2a2a" stroke-width="1.0" />
<line x1="38.70" y1="638.50" x2="52.30" y2="638.50" stroke="#2a2a2a" stroke-width="0.6" />
<line x1="38.70" y1="640.70" x2="52.30" y2="640.70" stroke="#2a2a2a" stroke-width="0.6" />
<path d="M75.10 542.40h0M75.10 555.90h0M73.90 560.40h0M76.50 560.00h0M76.50 565.60h0M72.50 566.74h0M73.80 567.52h0M75.10 568.30h0M76.40 567.52h0M77.70 566.74h0M75.10 572.50h0M72.50 574.74h0M73.80 575.52h0M75.10 576.30h0M76.40 575.52h0M77.70 574.74h0M72.50 578.79h0M73.80 579.25h0M75.10 579.70h0M76.40 579.25h0M77.70 578.79h0M73.80 581.72h0M75.10 582.50h0M76.40 581.72h0M72.50 586.09h0M73.80 586.54h0M75.10 587.00h0M76.40 586.54h0M77.70 586.09h0M71.20 589.13h0M72.50 589.59h0M73.80 590.04h0M75.10 590.50h0M76.40 590.04h0M77.70 589.59h0M79.00 589.13h0M73.80 592.22h0M75.10 593.00h0M76.40 592.22h0M72.50 594.94h0M73.80 595.72h0M75.10 596.50h0M76.40 595.72h0M77.70 594.94h0M72.50 597.64h0M73.80 598.42h0M75.10 599.20h0M76.40 598.42h0M77.70 597.64h0M71.20 600.84h0M72.50 601.29h0M73.80 601.75h0M75.10 602.20h0M76.40 601.75h0M77.70 601.29h0M79.00 600.84h0M73.80 604.72h0M75.10 605.50h0M76.40 604.72h0M73.80 607.92h0M75.10 608.70h0M76.40 607.92h0M72.50 611.24h0M73.80 612.02h0M75.10 612.80h0M76.40 612.02h0M77.70 611.24h0M72.50 615.94h0M73.80 616.72h0M75.10 617.50h0M76.40 616.72h0M77.70 615.94h0M71.20 618.64h0M72.50 619.16h0M73.80 619.68h0M75.10 620.20h0M76.40 619.68h0M77.70 619.16h0M79.00 618.64h0M71.20 621.34h0M72.50 621.86h0M73.80 622.38h0M75.10 622.90h0M76.40 622.38h0M77.70 621.86h0M79.00 621.34h0M71.20 624.04h0M72.50 624.56h0M73.80 625.08h0M75.10 625.60h0M76.40 625.08h0M77.70 624.56h0M79.00 624.04h0" stroke="#000" stroke-width="1.32" stroke-linecap="round" fill="none"/>
<path d="M69.90 625.52h0M71.20 626.04h0M72.50 626.56h0M73.80 627.08h0M75.10 627.60h0M76.40 627.08h0M77.70 626.56h0M79.00 626.04h0M80.30 625.52h0M68.60 628.30h0M69.90 628.56h0M71.20 628.82h0M72.50 629.08h0M73.80 629.34h0M75.10 629.60h0M76.40 629.34h0M77.70 629.08h0M79.00 628.82h0M80.30 628.56h0M81.60 628.30h0M68.60 630.54h0M69.90 630.90h0M71.20 631.25h0M72.50 631.60h0M73.80 631.95h0M75.10 632.30h0M76.40 631.95h0M77.70 631.60h0M79.00 631.25h0M80.30 630.90h0M81.60 630.54h0M67.30 632.89h0M68.60 633.25h0M69.90 633.60h0M71.20 633.95h0M72.50 634.30h0M73.80 634.65h0M75.10 635.00h0M76.40 634.65h0M77.70 634.30h0M79.00 633.95h0M80.30 633.60h0M81.60 633.25h0M82.90 632.89h0M67.30 635.59h0M68.60 635.95h0M69.90 636.30h0M71.20 636.65h0M72.50 637.00h0M73.80 637.35h0M75.10 637.70h0M76.40 637.35h0M77.70 637.00h0M79.00 636.65h0M80.30 636.30h0M81.60 635.95h0M82.90 635.59h0M67.30 638.29h0M68.60 638.64h0M69.90 639.00h0M71.20 639.35h0M72.50 639.70h0M73.80 640.05h0M75.10 640.40h0M76.40 640.05h0M77.70 639.70h0M79.00 639.35h0M80.30 639.00h0M81.60 638.64h0M82.90 638.29h0M66.00 640.64h0M67.30 640.99h0M68.60 641.35h0M69.90 641.70h0M71.20 642.05h0M72.50 642.40h0M73.80 642.75h0M75.10 643.10h0M76.40 642.75h0M77.70 642.40h0M79.00 642.05h0M80.30 641.70h0M81.60 641.35h0M82.90 640.99h0M84.20 640.64h0M66.00 643.34h0M67.30 643.69h0M68.60 644.04h0M69.90 644.40h0M71.20 644.75h0M72.50 645.10h0M73.80 645.45h0M75.10 645.80h0M76.40 645.45h0M77.70 645.10h0M79.00 644.75h0M80.30 644.40h0M81.60 644.04h0M82.90 643.69h0M84.20 643.34h0M64.70 645.39h0M66.00 645.74h0M67.30 646.09h0M68.60 646.45h0M69.90 646.80h0M71.20 647.15h0M72.50 647.50h0M73.80 647.85h0M75.10 648.20h0M76.40 647.85h0M77.70 647.50h0M79.00 647.15h0M80.30 646.80h0M81.60 646.45h0M82.90 646.09h0M84.20 645.74h0M85.50 645.39h0M64.70 647.29h0M66.00 647.64h0M67.30 647.99h0M68.60 648.35h0M69.90 648.70h0M71.20 649.05h0M72.50 649.40h0M73.80 649.75h0M75.10 650.10h0M76.40 649.75h0M77.70 649.40h0M79.00 649.05h0M80.30 648.70h0M81.60 648.35h0M82.90 647.99h0M84.20 647.64h0M85.50 647.29h0M69.90 650.24h0M71.20 650.63h0M72.50 651.02h0M73.80 651.41h0M75.10 651.80h0M76.40 651.41h0M77.70 651.02h0M79.00 650.63h0M80.30 650.24h0" stroke="#000" stroke-width="1.48" stroke-linecap="round" fill="none"/>
<line x1="60.30" y1="629.30" x2="90.20" y2="629.30" stroke="#2a2a2a" stroke-width="1.0" />
<line x1="68.45" y1="628.00" x2="82.05" y2="628.00" stroke="#2a2a2a" stroke-width="0.6" />
<line x1="68.45" y1="630.60" x2="82.05" y2="630.60" stroke="#2a2a2a" stroke-width="0.6" />
<path d="M151.60 559.70h0M151.60 583.00h0M151.60 590.40h0M151.10 594.40h0M152.10 597.00h0M150.30 601.22h0M151.60 602.00h0M152.90 601.22h0M149.00 603.84h0M150.30 604.62h0M151.60 605.40h0M152.90 604.62h0M154.20 603.84h0M151.60 609.50h0M149.00 611.24h0M150.30 612.02h0M151.60 612.80h0M152.90 612.02h0M154.20 611.24h0M147.70 614.25h0M149.00 614.90h0M150.30 615.55h0M151.60 616.20h0M152.90 615.55h0M154.20 614.90h0M155.50 614.25h0M147.70 617.65h0M149.00 618.30h0M150.30 618.95h0M151.60 619.60h0M152.90 618.95h0M154.20 618.30h0M155.50 617.65h0M149.00 622.04h0M150.30 622.82h0M151.60 623.60h0M152.90 622.82h0M154.20 622.04h0M147.70 645.24h0M149.00 645.76h0M150.30 646.28h0M151.60 646.80h0M152.90 646.28h0M154.20 645.76h0M155.50 645.24h0M150.30 648.02h0M151.60 648.80h0M152.90 648.02h0M151.60 650.30h0" stroke="#000" stroke-width="1.32" stroke-linecap="round" fill="none"/>
<path d="M145.10 625.46h0M146.40 625.88h0M147.70 626.31h0M149.00 626.74h0M150.30 627.17h0M151.60 627.60h0M152.90 627.17h0M154.20 626.74h0M155.50 626.31h0M156.80 625.88h0M158.10 625.46h0M143.80 627.56h0M145.10 627.95h0M146.40 628.34h0M147.70 628.73h0M149.00 629.12h0M150.30 629.51h0M151.60 629.90h0M152.90 629.51h0M154.20 629.12h0M155.50 628.73h0M156.80 628.34h0M158.10 627.95h0M159.40 627.56h0M141.20 630.19h0M142.50 630.54h0M143.80 630.89h0M145.10 631.25h0M146.40 631.60h0M147.70 631.95h0M149.00 632.30h0M150.30 632.65h0M151.60 633.00h0M152.90 632.65h0M154.20 632.30h0M155.50 631.95h0M156.80 631.60h0M158.10 631.25h0M159.40 630.89h0M160.70 630.54h0M162.00 630.19h0M141.20 632.59h0M142.50 632.94h0M143.80 633.29h0M145.10 633.64h0M146.40 634.00h0M147.70 634.35h0M149.00 634.70h0M150.30 635.05h0M151.60 635.40h0M152.90 635.05h0M154.20 634.70h0M155.50 634.35h0M156.80 634.00h0M158.10 633.64h0M159.40 633.29h0M160.70 632.94h0M162.00 632.59h0M139.90 634.94h0M141.20 635.29h0M142.50 635.64h0M143.80 635.99h0M145.10 636.35h0M146.40 636.70h0M147.70 637.05h0M149.00 637.40h0M150.30 637.75h0M151.60 638.10h0M152.90 637.75h0M154.20 637.40h0M155.50 637.05h0M156.80 636.70h0M158.10 636.35h0M159.40 635.99h0M160.70 635.64h0M162.00 635.29h0M163.30 634.94h0M141.20 637.69h0M142.50 638.04h0M143.80 638.39h0M145.10 638.75h0M146.40 639.10h0M147.70 639.45h0M149.00 639.80h0M150.30 640.15h0M151.60 640.50h0M152.90 640.15h0M154.20 639.80h0M155.50 639.45h0M156.80 639.10h0M158.10 638.75h0M159.40 638.39h0M160.70 638.04h0M162.00 637.69h0M141.20 639.99h0M142.50 640.34h0M143.80 640.69h0M145.10 641.04h0M146.40 641.40h0M147.70 641.75h0M149.00 642.10h0M150.30 642.45h0M151.60 642.80h0M152.90 642.45h0M154.20 642.10h0M155.50 641.75h0M156.80 641.40h0M158.10 641.04h0M159.40 640.69h0M160.70 640.34h0M162.00 639.99h0M142.50 642.34h0M143.80 642.69h0M145.10 643.04h0M146.40 643.40h0M147.70 643.75h0M149.00 644.10h0M150.30 644.45h0M151.60 644.80h0M152.90 644.45h0M154.20 644.10h0M155.50 643.75h0M156.80 643.40h0M158.10 643.04h0M159.40 642.69h0M160.70 642.34h0" stroke="#000" stroke-width="1.48" stroke-linecap="round" fill="none"/>
<line x1="137.40" y1="632.70" x2="167.00" y2="632.70" stroke="#2a2a2a" stroke-width="1.0" />
<path d="M185.70 570.50h0M185.70 579.00h0M185.10 581.60h0M186.50 581.30h0M185.70 584.30h0M186.10 586.50h0M183.10 588.14h0M184.40 588.92h0M185.70 589.70h0M187.00 588.92h0M188.30 588.14h0M183.10 591.44h0M184.40 592.22h0M185.70 593.00h0M187.00 592.22h0M188.30 591.44h0M183.10 595.82h0M184.40 596.21h0M185.70 596.60h0M187.00 596.21h0M188.30 595.82h0M183.10 599.18h0M184.40 598.79h0M185.70 598.40h0M187.00 598.79h0M188.30 599.18h0M181.80 600.25h0M183.10 600.90h0M184.40 601.55h0M185.70 602.20h0M187.00 601.55h0M188.30 600.90h0M189.60 600.25h0M181.80 604.05h0M183.10 604.70h0M184.40 605.35h0M185.70 606.00h0M187.00 605.35h0M188.30 604.70h0M189.60 604.05h0M181.80 607.55h0M183.10 608.20h0M184.40 608.85h0M185.70 609.50h0M187.00 608.85h0M188.30 608.20h0M189.60 607.55h0M181.80 616.45h0M183.10 617.10h0M184.40 617.75h0M185.70 618.40h0M187.00 617.75h0M188.30 617.10h0M189.60 616.45h0M184.40 644.02h0M185.70 644.80h0M187.00 644.02h0" stroke="#000" stroke-width="1.32" stroke-linecap="round" fill="none"/>
<path d="M179.20 609.88h0M180.50 610.46h0M181.80 611.04h0M183.10 611.63h0M184.40 612.21h0M185.70 612.80h0M187.00 612.21h0M188.30 611.63h0M189.60 611.04h0M190.90 610.46h0M192.20 609.88h0M179.20 613.28h0M180.50 613.86h0M181.80 614.45h0M183.10 615.03h0M184.40 615.62h0M185.70 616.20h0M187.00 615.62h0M188.30 615.03h0M189.60 614.45h0M190.90 613.86h0M192.20 613.28h0M180.50 618.56h0M181.80 619.14h0M183.10 619.73h0M184.40 620.31h0M185.70 620.90h0M187.00 620.31h0M188.30 619.73h0M189.60 619.14h0M190.90 618.56h0M176.60 620.14h0M177.90 620.49h0M179.20 620.85h0M180.50 621.20h0M181.80 621.55h0M183.10 621.90h0M184.40 622.25h0M185.70 622.60h0M187.00 622.25h0M188.30 621.90h0M189.60 621.55h0M190.90 621.20h0M192.20 620.85h0M193.50 620.49h0M194.80 620.14h0M175.30 620.99h0M176.60 621.34h0M177.90 621.69h0M179.20 622.04h0M180.50 622.40h0M181.80 622.75h0M183.10 623.10h0M184.40 623.45h0M185.70 623.80h0M187.00 623.45h0M188.30 623.10h0M189.60 622.75h0M190.90 622.40h0M192.20 622.04h0M193.50 621.69h0M194.80 621.34h0M196.10 620.99h0M175.30 622.49h0M176.60 622.84h0M177.90 623.19h0M179.20 623.54h0M180.50 623.90h0M181.80 624.25h0M183.10 624.60h0M184.40 624.95h0M185.70 625.30h0M187.00 624.95h0M188.30 624.60h0M189.60 624.25h0M190.90 623.90h0M192.20 623.54h0M193.50 623.19h0M194.80 622.84h0M196.10 622.49h0M175.30 625.19h0M176.60 625.54h0M177.90 625.89h0M179.20 626.25h0M180.50 626.60h0M181.80 626.95h0M183.10 627.30h0M184.40 627.65h0M185.70 628.00h0M187.00 627.65h0M188.30 627.30h0M189.60 626.95h0M190.90 626.60h0M192.20 626.25h0M193.50 625.89h0M194.80 625.54h0M196.10 625.19h0M175.30 627.89h0M176.60 628.24h0M177.90 628.59h0M179.20 628.95h0M180.50 629.30h0M181.80 629.65h0M183.10 630.00h0M184.40 630.35h0M185.70 630.70h0M187.00 630.35h0M188.30 630.00h0M189.60 629.65h0M190.90 629.30h0M192.20 628.95h0M193.50 628.59h0M194.80 628.24h0M196.10 627.89h0M175.30 630.59h0M176.60 630.94h0M177.90 631.29h0M179.20 631.64h0M180.50 632.00h0M181.80 632.35h0M183.10 632.70h0M184.40 633.05h0M185.70 633.40h0M187.00 633.05h0M188.30 632.70h0M189.60 632.35h0M190.90 632.00h0M192.20 631.64h0M193.50 631.29h0M194.80 630.94h0M196.10 630.59h0M175.30 633.19h0M176.60 633.54h0M177.90 633.89h0M179.20 634.25h0M180.50 634.60h0M181.80 634.95h0M183.10 635.30h0M184.40 635.65h0M185.70 636.00h0M187.00 635.65h0M188.30 635.30h0M189.60 634.95h0M190.90 634.60h0M192.20 634.25h0M193.50 633.89h0M194.80 633.54h0M196.10 633.19h0M175.30 635.89h0M176.60 636.24h0M177.90 636.59h0M179.20 636.95h0M180.50 637.30h0M181.80 637.65h0M183.10 638.00h0M184.40 638.35h0M185.70 638.70h0M187.00 638.35h0M188.30 638.00h0M189.60 637.65h0M190.90 637.30h0M192.20 636.95h0M193.50 636.59h0M194.80 636.24h0M196.10 635.89h0M175.30 638.59h0M176.60 638.94h0M177.90 639.29h0M179.20 639.64h0M180.50 640.00h0M181.80 640.35h0M183.10 640.70h0M184.40 641.05h0M185.70 641.40h0M187.00 641.05h0M188.30 640.70h0M189.60 640.35h0M190.90 640.00h0M192.20 639.64h0M193.50 639.29h0M194.80 638.94h0M196.10 638.59h0M179.20 641.45h0M180.50 641.80h0M181.80 642.15h0M183.10 642.50h0M184.40 642.85h0M185.70 643.20h0M187.00 642.85h0M188.30 642.50h0M189.60 642.15h0M190.90 641.80h0M192.20 641.45h0" stroke="#000" stroke-width="1.48" stroke-linecap="round" fill="none"/>
<line x1="171.40" y1="623.00" x2="200.90" y2="623.00" stroke="#2a2a2a" stroke-width="1.0" />
<path d="M260.70 599.20h0M260.70 606.50h0M259.80 612.30h0M261.30 612.90h0M259.40 614.42h0M260.70 615.20h0M262.00 614.42h0M258.10 615.64h0M259.40 616.42h0M260.70 617.20h0M262.00 616.42h0M263.30 615.64h0M258.10 634.22h0M259.40 634.61h0M260.70 635.00h0M262.00 634.61h0M263.30 634.22h0" stroke="#000" stroke-width="1.32" stroke-linecap="round" fill="none"/>
<path d="M252.90 616.73h0M254.20 617.15h0M255.50 617.58h0M256.80 618.01h0M258.10 618.44h0M259.40 618.87h0M260.70 619.30h0M262.00 618.87h0M263.30 618.44h0M264.60 618.01h0M265.90 617.58h0M267.20 617.15h0M268.50 616.73h0M250.30 618.88h0M251.60 619.27h0M252.90 619.66h0M254.20 620.05h0M255.50 620.44h0M256.80 620.83h0M258.10 621.22h0M259.40 621.61h0M260.70 622.00h0M262.00 621.61h0M263.30 621.22h0M264.60 620.83h0M265.90 620.44h0M267.20 620.05h0M268.50 619.66h0M269.80 619.27h0M271.10 618.88h0M249.00 621.24h0M250.30 621.59h0M251.60 621.94h0M252.90 622.29h0M254.20 622.64h0M255.50 623.00h0M256.80 623.35h0M258.10 623.70h0M259.40 624.05h0M260.70 624.40h0M262.00 624.05h0M263.30 623.70h0M264.60 623.35h0M265.90 623.00h0M267.20 622.64h0M268.50 622.29h0M269.80 621.94h0M271.10 621.59h0M272.40 621.24h0M249.00 623.24h0M250.30 623.59h0M251.60 623.94h0M252.90 624.29h0M254.20 624.64h0M255.50 625.00h0M256.80 625.35h0M258.10 625.70h0M259.40 626.05h0M260.70 626.40h0M262.00 626.05h0M263.30 625.70h0M264.60 625.35h0M265.90 625.00h0M267.20 624.64h0M268.50 624.29h0M269.80 623.94h0M271.10 623.59h0M272.40 623.24h0M250.30 625.79h0M251.60 626.14h0M252.90 626.49h0M254.20 626.85h0M255.50 627.20h0M256.80 627.55h0M258.10 627.90h0M259.40 628.25h0M260.70 628.60h0M262.00 628.25h0M263.30 627.90h0M264.60 627.55h0M265.90 627.20h0M267.20 626.85h0M268.50 626.49h0M269.80 626.14h0M271.10 625.79h0M251.60 628.34h0M252.90 628.69h0M254.20 629.04h0M255.50 629.40h0M256.80 629.75h0M258.10 630.10h0M259.40 630.45h0M260.70 630.80h0M262.00 630.45h0M263.30 630.10h0M264.60 629.75h0M265.90 629.40h0M267.20 629.04h0M268.50 628.69h0M269.80 628.34h0M252.90 630.89h0M254.20 631.25h0M255.50 631.60h0M256.80 631.95h0M258.10 632.30h0M259.40 632.65h0M260.70 633.00h0M262.00 632.65h0M263.30 632.30h0M264.60 631.95h0M265.90 631.60h0M267.20 631.25h0M268.50 630.89h0" stroke="#000" stroke-width="1.48" stroke-linecap="round" fill="none"/>
<line x1="245.80" y1="625.70" x2="275.30" y2="625.70" stroke="#2a2a2a" stroke-width="1.0" />
<path d="M293.00 528.80h0M293.00 562.50h0M293.00 565.50h0M293.00 579.00h0M293.00 587.40h0M293.00 593.00h0M293.00 600.00h0M292.00 604.30h0M294.00 604.80h0M291.40 608.20h0M293.00 609.00h0M294.60 608.20h0M290.40 610.74h0M291.70 611.52h0M293.00 612.30h0M294.30 611.52h0M295.60 610.74h0M290.40 614.44h0M291.70 615.22h0M293.00 616.00h0M294.30 615.22h0M295.60 614.44h0M290.40 632.42h0M291.70 632.81h0M293.00 633.20h0M294.30 632.81h0M295.60 632.42h0" stroke="#000" stroke-width="1.32" stroke-linecap="round" fill="none"/>
<path d="M286.50 616.46h0M287.80 616.88h0M289.10 617.31h0M290.40 617.74h0M291.70 618.17h0M293.00 618.60h0M294.30 618.17h0M295.60 617.74h0M296.90 617.31h0M298.20 616.88h0M299.50 616.46h0M282.60 617.78h0M283.90 618.17h0M285.20 618.56h0M286.50 618.95h0M287.80 619.34h0M289.10 619.73h0M290.40 620.12h0M291.70 620.51h0M293.00 620.90h0M294.30 620.51h0M295.60 620.12h0M296.90 619.73h0M298.20 619.34h0M299.50 618.95h0M300.80 618.56h0M302.10 618.17h0M303.40 617.78h0M281.30 619.94h0M282.60 620.29h0M283.90 620.64h0M285.20 620.99h0M286.50 621.35h0M287.80 621.70h0M289.10 622.05h0M290.40 622.40h0M291.70 622.75h0M293.00 623.10h0M294.30 622.75h0M295.60 622.40h0M296.90 622.05h0M298.20 621.70h0M299.50 621.35h0M300.80 620.99h0M302.10 620.64h0M303.40 620.29h0M304.70 619.94h0M281.30 622.04h0M282.60 622.39h0M283.90 622.74h0M285.20 623.09h0M286.50 623.45h0M287.80 623.80h0M289.10 624.15h0M290.40 624.50h0M291.70 624.85h0M293.00 625.20h0M294.30 624.85h0M295.60 624.50h0M296.90 624.15h0M298.20 623.80h0M299.50 623.45h0M300.80 623.09h0M302.10 622.74h0M303.40 622.39h0M304.70 622.04h0M282.60 624.49h0M283.90 624.84h0M285.20 625.19h0M286.50 625.54h0M287.80 625.90h0M289.10 626.25h0M290.40 626.60h0M291.70 626.95h0M293.00 627.30h0M294.30 626.95h0M295.60 626.60h0M296.90 626.25h0M298.20 625.90h0M299.50 625.54h0M300.80 625.19h0M302.10 624.84h0M303.40 624.49h0M282.60 626.49h0M283.90 626.84h0M285.20 627.19h0M286.50 627.54h0M287.80 627.90h0M289.10 628.25h0M290.40 628.60h0M291.70 628.95h0M293.00 629.30h0M294.30 628.95h0M295.60 628.60h0M296.90 628.25h0M298.20 627.90h0M299.50 627.54h0M300.80 627.19h0M302.10 626.84h0M303.40 626.49h0M283.90 628.74h0M285.20 629.09h0M286.50 629.45h0M287.80 629.80h0M289.10 630.15h0M290.40 630.50h0M291.70 630.85h0M293.00 631.20h0M294.30 630.85h0M295.60 630.50h0M296.90 630.15h0M298.20 629.80h0M299.50 629.45h0M300.80 629.09h0M302.10 628.74h0" stroke="#000" stroke-width="1.48" stroke-linecap="round" fill="none"/>
<line x1="278.40" y1="623.20" x2="307.60" y2="623.20" stroke="#2a2a2a" stroke-width="1.0" />
<text x="343.80" y="475.40" font-size="13" text-anchor="start" font-weight="bold" font-style="normal" fill="#141414" stroke="#141414" stroke-width="0.2" >F</text>
<text x="452.00" y="473.20" font-size="10.2" text-anchor="middle" font-weight="normal" font-style="normal" fill="#141414" stroke="#141414" stroke-width="0.3" ><tspan font-style="italic">IDO1</tspan>-positive cell lines</text>
<line x1="386.50" y1="480.60" x2="517.00" y2="480.60" stroke="#141414" stroke-width="0.9" />
<line x1="386.50" y1="501.30" x2="485.40" y2="501.30" stroke="#141414" stroke-width="0.9" />
<line x1="344.60" y1="518.30" x2="517.00" y2="518.30" stroke="#141414" stroke-width="0.9" />
<line x1="344.60" y1="548.80" x2="517.00" y2="548.80" stroke="#141414" stroke-width="0.9" />
<line x1="344.60" y1="577.70" x2="517.00" y2="577.70" stroke="#141414" stroke-width="0.9" />
<line x1="344.60" y1="517.85" x2="344.60" y2="578.15" stroke="#141414" stroke-width="0.9" />
<line x1="386.50" y1="480.15" x2="386.50" y2="578.15" stroke="#141414" stroke-width="0.9" />
<line x1="485.40" y1="480.15" x2="485.40" y2="578.15" stroke="#141414" stroke-width="0.9" />
<line x1="517.00" y1="480.15" x2="517.00" y2="578.15" stroke="#141414" stroke-width="0.9" />
<line x1="435.40" y1="501.30" x2="435.40" y2="577.70" stroke="#141414" stroke-width="0.9" />
<text x="436.00" y="493.30" font-size="8.1" text-anchor="middle" font-weight="normal" font-style="normal" fill="#141414" stroke="#141414" stroke-width="0.3" >PI3K or/and MAPK</text>
<text x="502.00" y="498.90" font-size="8.1" text-anchor="middle" font-weight="normal" font-style="italic" fill="#141414" stroke="#141414" stroke-width="0.3" >P</text>
<text x="410.70" y="511.40" font-size="8.1" text-anchor="middle" font-weight="normal" font-style="normal" fill="#141414" stroke="#141414" stroke-width="0.3" >Mutated</text>
<text x="460.20" y="511.40" font-size="8.1" text-anchor="middle" font-weight="normal" font-style="normal" fill="#141414" stroke="#141414" stroke-width="0.3" >Nonmutated</text>
<text x="363.80" y="531.10" font-size="8" text-anchor="middle" font-weight="normal" font-style="normal" fill="#141414" stroke="#141414" stroke-width="0.3" >All tumor</text>
<text x="366.20" y="541.10" font-size="8" text-anchor="middle" font-weight="normal" font-style="normal" fill="#141414" stroke="#141414" stroke-width="0.3" >lines</text>
<text x="409.90" y="533.20" font-size="8.1" text-anchor="middle" font-weight="normal" font-style="normal" fill="#141414" stroke="#141414" stroke-width="0.3" >79/138</text>
<text x="409.90" y="542.80" font-size="8.1" text-anchor="middle" font-weight="normal" font-style="normal" fill="#141414" stroke="#141414" stroke-width="0.3" >(57%)</text>
<text x="459.20" y="533.20" font-size="8.1" text-anchor="middle" font-weight="normal" font-style="normal" fill="#141414" stroke="#141414" stroke-width="0.3" >113/249</text>
<text x="459.20" y="542.80" font-size="8.1" text-anchor="middle" font-weight="normal" font-style="normal" fill="#141414" stroke="#141414" stroke-width="0.3" >(45%)</text>
<text x="501.60" y="534.80" font-size="8" text-anchor="middle" font-weight="normal" font-style="normal" fill="#141414" stroke="#141414" stroke-width="0.3" >0.0355</text>
<text x="363.00" y="556.80" font-size="8" text-anchor="middle" font-weight="normal" font-style="normal" fill="#141414" stroke="#141414" stroke-width="0.3" >Lung</text>
<text x="363.00" y="566.20" font-size="8" text-anchor="middle" font-weight="normal" font-style="normal" fill="#141414" stroke="#141414" stroke-width="0.3" >tumor</text>
<text x="364.00" y="576.60" font-size="8" text-anchor="middle" font-weight="normal" font-style="normal" fill="#141414" stroke="#141414" stroke-width="0.3" >lines</text>
<text x="409.90" y="563.80" font-size="8.1" text-anchor="middle" font-weight="normal" font-style="normal" fill="#141414" stroke="#141414" stroke-width="0.3" >15/23</text>
<text x="409.90" y="573.60" font-size="8.1" text-anchor="middle" font-weight="normal" font-style="normal" fill="#141414" stroke="#141414" stroke-width="0.3" >(65%)</text>
<text x="459.20" y="563.80" font-size="8.1" text-anchor="middle" font-weight="normal" font-style="normal" fill="#141414" stroke="#141414" stroke-width="0.3" >21/57</text>
<text x="459.20" y="573.60" font-size="8.1" text-anchor="middle" font-weight="normal" font-style="normal" fill="#141414" stroke="#141414" stroke-width="0.3" >(37%)</text>
<text x="501.60" y="564.80" font-size="8" text-anchor="middle" font-weight="normal" font-style="normal" fill="#141414" stroke="#141414" stroke-width="0.3" >0.0136</text>
</svg>
</body>
</html>
